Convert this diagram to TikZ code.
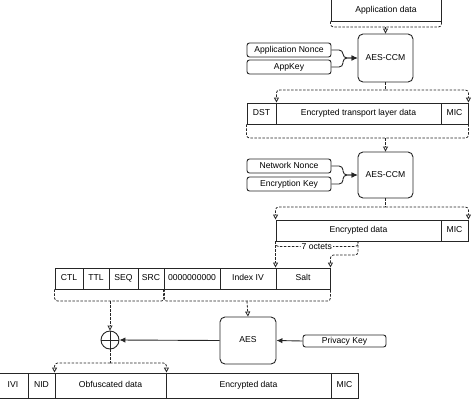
\documentclass[tikz,border=0pt]{standalone}
\usepackage{fontspec}
\setmainfont{Liberation Sans}
\usetikzlibrary{arrows.meta,calc}
\tikzset{
 cell/.style={draw=black!85, line width=0.9pt, inner sep=0pt, font=\fontsize{8.6}{10}\selectfont, text height=6.2pt, text depth=1.8pt, fill=white},
 rcell/.style={cell, rounded corners=5pt},
 kcell/.style={cell, rounded corners=2.5pt},
 dl/.style={draw=black!85, line width=0.8pt, dash pattern=on 2.5pt off 1.5pt, rounded corners=3pt},
 oa/.style={-{Triangle[open,length=5pt,width=5pt]}},
 fa/.style={-{Latex[length=6pt,width=5.5pt]}, line width=0.9pt, draw=black!85},
 lbl/.style={font=\fontsize{8.6}{10}\selectfont, fill=white, inner sep=1pt}
}
\newcommand\cellbox[7][]{\node[cell,#1,minimum width={(#4-#3)*1pt},minimum height={(#6-#5)*1pt}] (#2) at ({(#3+#4)/2},{(#5+#6)/2}) {#7};}
\begin{document}
\begin{tikzpicture}[x=1pt,y=-1pt]
\useasboundingbox (0,0) rectangle (474,400);
% top
\cellbox{appdata}{331}{441}{-0.5}{21}{Application data}
\cellbox[rcell]{ccm1}{358}{413}{34}{82}{AES-CCM}
\cellbox[kcell]{an}{247}{331}{43}{57}{Application Nonce}
\cellbox[kcell]{ak}{247}{331}{60}{74}{AppKey}
% row DST
\cellbox{dst}{247}{276}{103}{124}{DST}
\cellbox{etl}{276}{441}{103}{124}{Encrypted transport layer data}
\cellbox{mic1}{441}{468}{103}{124}{MIC}
% second ccm
\cellbox[rcell]{ccm2}{358}{413}{152}{198}{AES-CCM}
\cellbox[kcell]{nn}{247}{331}{159}{173}{Network Nonce}
\cellbox[kcell]{ek}{247}{331}{177}{191}{Encryption Key}
% encrypted data row
\cellbox{enc}{276}{441}{220}{241}{Encrypted data}
\cellbox{mic2}{441}{468}{220}{241}{MIC}
% row 2
\cellbox{ctl}{55}{83}{268}{289}{CTL}
\cellbox{ttl}{83}{109}{268}{289}{TTL}
\cellbox{seq}{109}{138}{268}{289}{SEQ}
\cellbox{src}{138}{164}{268}{289}{SRC}
\cellbox{zero}{164}{220}{268}{289}{0000000000}
\cellbox{iv}{220}{276}{268}{289}{Index IV}
\cellbox{salt}{276}{330}{268}{289}{Salt}
% AES
\cellbox[rcell]{aes}{220}{276}{317}{364}{AES}
\cellbox[kcell]{pk}{303}{386}{335}{347}{Privacy Key}
\node[draw=black!85, line width=0.9pt, circle, minimum size=18pt, inner sep=0pt] (xor) at (110,340) {};
\draw[line width=0.9pt, draw=black!85] (xor.north) -- (xor.south) (xor.west) -- (xor.east);
% bottom row
\cellbox{ivi}{-2}{28}{373}{398}{IVI}
\cellbox{nid}{28}{55}{373}{398}{NID}
\cellbox{obf}{55}{166}{373}{398}{Obfuscated data}
\cellbox{enc2}{166}{331}{373}{398}{Encrypted data}
\cellbox{mic3}{331}{358}{373}{398}{MIC}
% junctions
\coordinate (j1) at (385.5,27);
\coordinate (j2) at (385.5,90);
\coordinate (j3) at (385.5,138);
\coordinate (j4) at (385.5,207);
\coordinate (j5) at (110,301);
\coordinate (j6) at (247,301);
\coordinate (j7) at (110,363);
\coordinate (o1) at (358,241);
% key merges
\draw[fa, rounded corners=4pt] (an.east) -- (343,50) -- (343,58) -- (ccm1.west);
\draw[fa, rounded corners=4pt] (ak.east) -- (343,67) -- (343,58) -- (ccm1.west);
\draw[fa, rounded corners=4pt] (nn.east) -- (343,166) -- (343,175) -- (ccm2.west);
\draw[fa, rounded corners=4pt] (ek.east) -- (343,184) -- (343,175) -- (ccm2.west);
% dashed flows
\draw[dl] (appdata.south west) |- (j1) -| (appdata.south east);
\draw[dl,oa] (j1) -- (ccm1.north);
\draw[dl] (ccm1.south) -- (j2);
\draw[dl,oa] (j2) -| (dst.north east);
\draw[dl,oa] (j2) -| (mic1.north east);
\draw[dl] (dst.south west) |- (j3) -| (mic1.south east);
\draw[dl,oa] (j3) -- (ccm2.north);
\draw[dl] (ccm2.south) -- (j4);
\draw[dl,oa] (j4) -| (enc.north west);
\draw[dl,oa] (j4) -| (mic2.north east);
% 7 octets
\draw[dl] (enc.south west) |- node[lbl,pos=0.75]{7 octets} (358,246.5) -- (o1);
\draw[dl,oa] (enc.south west) -- (salt.north west);
\draw[dl,oa] (o1) -- (358,255) -| (salt.north east);
% row 2 braces
\draw[dl] (ctl.south west) |- (j5) -| (src.south east);
\draw[dl,oa] (j5) -- (xor.north);
\draw[dl] (zero.south west) |- (j6) -| (salt.south east);
\draw[dl,oa] (j6) -- (aes.north);
\draw[fa] (pk.west) -- (aes.east);
\draw[fa] (aes.west) -- (xor.east);
\draw[dl] (xor.south) -- (j7);
\draw[dl,oa] (j7) -| (obf.north west);
\draw[dl,oa] (j7) -| (obf.north east);
\end{tikzpicture}
\end{document}
